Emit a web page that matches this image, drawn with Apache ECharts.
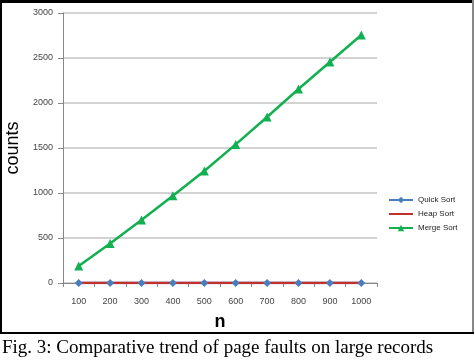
<!DOCTYPE html>
<html><head><meta charset="utf-8">
<script src="https://cdn.jsdelivr.net/npm/echarts@6/dist/echarts.min.js"></script>
<style>html,body{margin:0;padding:0;background:#fff}#c{width:474px;height:362px}</style>
</head><body><div id="c"></div>
<script>
const categories = ['100','200','300','400','500','600','700','800','900','1000'];
const quickSort = [0,0,0,0,0,0,0,0,0,0];
const heapSort = [0,0,0,0,0,0,0,0,0,0];
const mergeSort = [190,440,700,970,1245,1540,1845,2155,2455,2755];
const yTicks = {min:0, max:3000, interval:500};

const chart = echarts.init(document.getElementById('c'));
chart.setOption({
  backgroundColor:'#fff',
  animation:false,
  grid:{left:63, top:13, width:314, height:270, containLabel:false, outerBoundsMode:'none'},
  legend:{
    orient:'vertical', left:383, top:191, itemGap:6, itemWidth:24, itemHeight:8,
    textStyle:{fontSize:8, color:'#222', fontFamily:'Liberation Sans'},
    data:['Quick Sort', {name:'Heap Sort', itemStyle:{opacity:0}}, 'Merge Sort']
  },
  xAxis:{
    type:'category', data:categories, boundaryGap:true,
    name:'n', nameLocation:'middle', nameGap:30,
    nameTextStyle:{fontSize:18, color:'#000', fontFamily:'Liberation Sans', fontWeight:'bold'},
    axisLine:{lineStyle:{color:'#888'}},
    axisTick:{show:true, lineStyle:{color:'#888'}, length:4},
    axisLabel:{fontSize:9, color:'#444', fontFamily:'Liberation Sans', margin:14}
  },
  yAxis:{
    type:'value', min:yTicks.min, max:yTicks.max, interval:yTicks.interval,
    name:'counts', nameLocation:'middle', nameGap:39,
    nameTextStyle:{fontSize:18, color:'#000', fontFamily:'Liberation Sans'},
    axisLine:{show:true, lineStyle:{color:'#888'}},
    axisTick:{show:true, length:5, lineStyle:{color:'#888'}},
    splitLine:{lineStyle:{color:'#c4c4c4', width:1.5}},
    axisLabel:{fontSize:9, color:'#444', fontFamily:'Liberation Sans', margin:10,
      formatter:function(v){return String(v);}}
  },
  series:[
    {name:'Quick Sort', type:'line', data:quickSort, symbol:'diamond', symbolSize:8,
     itemStyle:{color:'#4a7ebb'}, lineStyle:{color:'#4a7ebb', width:2.5}},
    {name:'Heap Sort', type:'line', data:heapSort, symbol:'none', showSymbol:false,
     itemStyle:{color:'#c0302c'}, lineStyle:{color:'#c0302c', width:2.5}},
    {name:'Merge Sort', type:'line', data:mergeSort, symbol:'triangle', symbolSize:9,
     itemStyle:{color:'#12b050'}, lineStyle:{color:'#12b050', width:2.5}}
  ],
  graphic:[
    {type:'rect', shape:{x:0,y:0,width:474,height:3}, style:{fill:'#000'}},
    {type:'rect', shape:{x:0,y:0,width:2,height:334}, style:{fill:'#000'}},
    {type:'rect', shape:{x:472,y:0,width:2,height:334}, style:{fill:'#888'}},
    {type:'rect', shape:{x:0,y:332,width:474,height:2}, style:{fill:'#000'}},
    {type:'text', left:2, top:339, style:{text:'Fig. 3: Comparative trend of page faults on large records',
      fontSize:19, fill:'#000', fontFamily:'Liberation Serif'}}
  ]
});
</script></body></html>
